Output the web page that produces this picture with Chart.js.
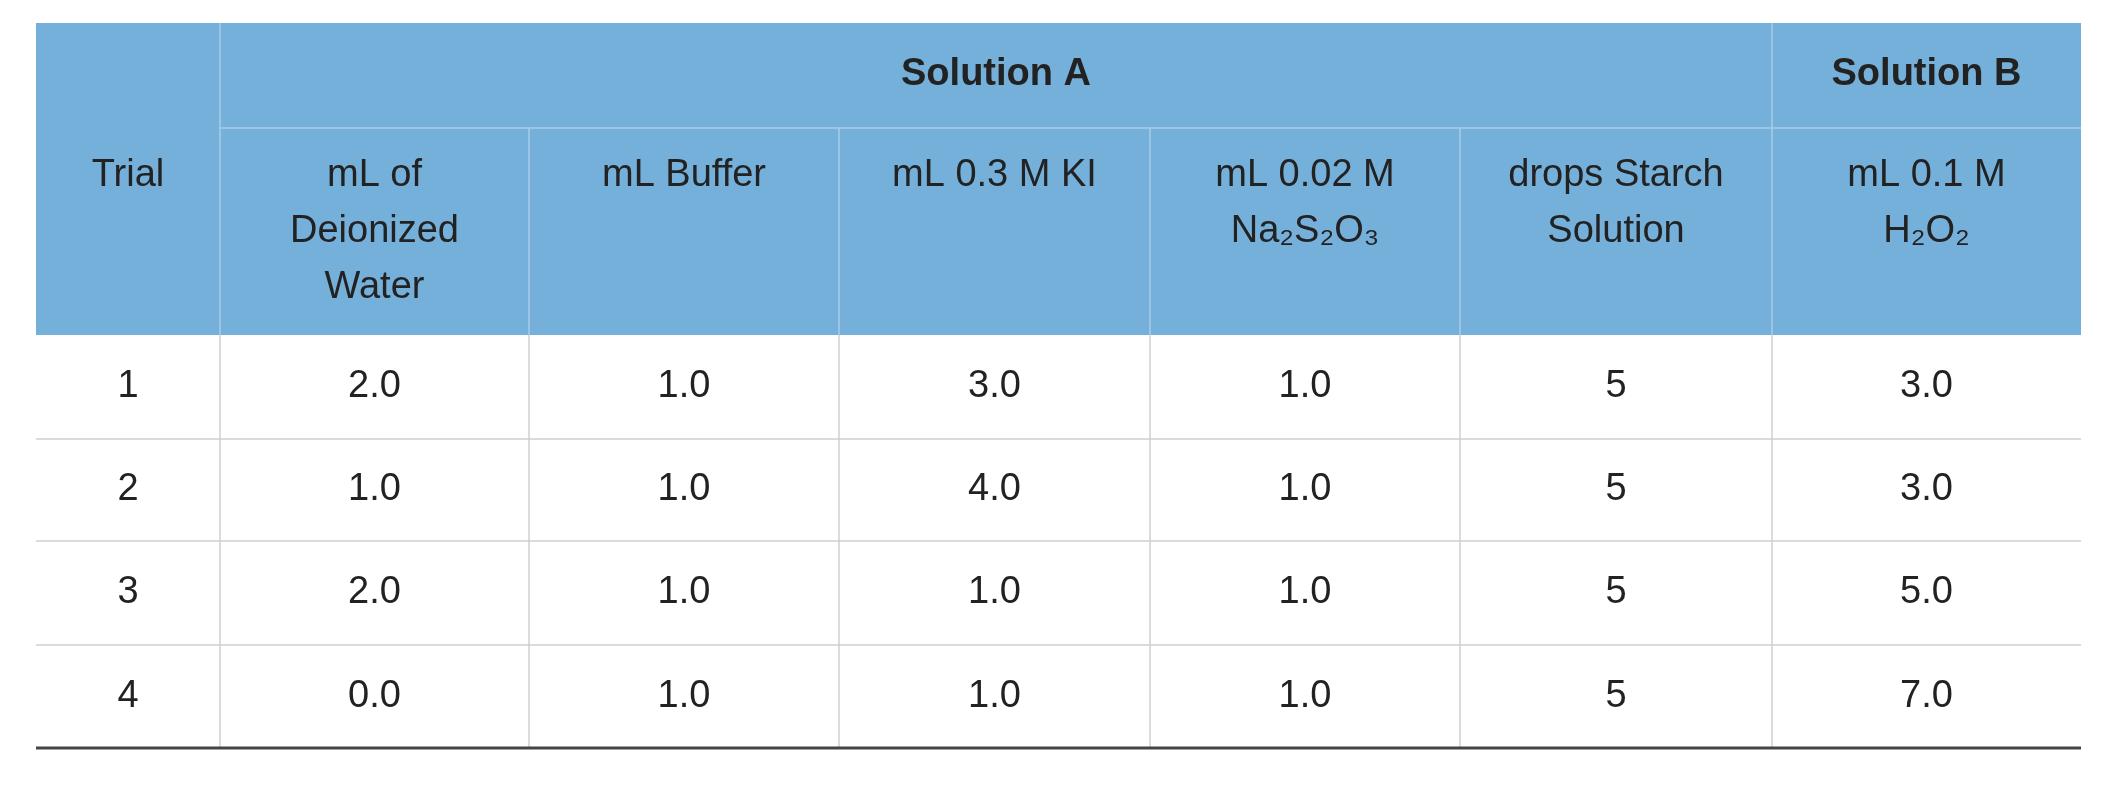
<!DOCTYPE html>
<html>
<head>
<meta charset="utf-8">
<script src="https://cdn.jsdelivr.net/npm/chart.js@4.4.0/dist/chart.umd.min.js"></script>
<style>
  html, body { margin: 0; padding: 0; background: #fff; }
  #wrap { width: 2116px; height: 790px; }
</style>
</head>
<body>
<div id="wrap"><canvas id="tbl"></canvas></div>
<script>
// table content
const groupHeaders = ['', 'Solution A', 'Solution B'];
const columnHeaders = [
    ['Trial'],
    ['mL of', 'Deionized', 'Water'],
    ['mL Buffer'],
    ['mL 0.3 M KI'],
    ['mL 0.02 M', 'Na₂S₂O₃'],
    ['drops Starch', 'Solution'],
    ['mL 0.1 M', 'H₂O₂']
];
const trials = ['1', '2', '3', '4'];
const water = ['2.0', '1.0', '2.0', '0.0'];
const buffer = ['1.0', '1.0', '1.0', '1.0'];
const ki = ['3.0', '4.0', '1.0', '1.0'];
const thio = ['1.0', '1.0', '1.0', '1.0'];
const starch = ['5', '5', '5', '5'];
const peroxide = ['3.0', '3.0', '5.0', '7.0'];

const columns = [trials, water, buffer, ki, thio, starch, peroxide];

// column edges / row edges in scale units
const colEdges = [0, 184, 493, 803, 1114, 1424, 1736, 2045];
const rowEdges = [0, 105, 312, 416, 518, 622, 725];

const tablePlugin = {
    id: 'tablePlugin',
    afterDraw(chart) {
        const ctx = chart.ctx;
        const xs = chart.scales.x, ys = chart.scales.y;
        const X = v => xs.getPixelForValue(v);
        const Y = v => ys.getPixelForValue(v);
        const font = "'Liberation Sans', Arial, Helvetica, sans-serif";
        ctx.save();

        // header background
        ctx.fillStyle = '#75b0db';
        ctx.fillRect(X(0), Y(0), X(2045) - X(0), Y(rowEdges[2]) - Y(0));

        // header separators
        ctx.strokeStyle = '#a9cbe8';
        ctx.lineWidth = 1.5;
        ctx.beginPath();
        ctx.moveTo(X(colEdges[1]), Y(rowEdges[1])); ctx.lineTo(X(2045), Y(rowEdges[1]));
        ctx.moveTo(X(colEdges[1]), Y(0)); ctx.lineTo(X(colEdges[1]), Y(rowEdges[2]));
        ctx.moveTo(X(colEdges[6]), Y(0)); ctx.lineTo(X(colEdges[6]), Y(rowEdges[2]));
        for (let i = 2; i < 6; i++) {
            ctx.moveTo(X(colEdges[i]), Y(rowEdges[1])); ctx.lineTo(X(colEdges[i]), Y(rowEdges[2]));
        }
        ctx.stroke();

        // body grid
        ctx.strokeStyle = '#cfcfcf';
        ctx.beginPath();
        for (let i = 1; i < 7; i++) {
            ctx.moveTo(X(colEdges[i]), Y(rowEdges[2])); ctx.lineTo(X(colEdges[i]), Y(725));
        }
        for (let r = 3; r < 6; r++) {
            ctx.moveTo(X(0), Y(rowEdges[r])); ctx.lineTo(X(2045), Y(rowEdges[r]));
        }
        ctx.stroke();

        // bottom rule
        ctx.strokeStyle = '#444';
        ctx.lineWidth = 3;
        ctx.beginPath();
        ctx.moveTo(X(0), Y(725)); ctx.lineTo(X(2045), Y(725));
        ctx.stroke();

        ctx.fillStyle = '#222';
        ctx.textAlign = 'center';
        ctx.textBaseline = 'middle';

        // group headers
        ctx.font = 'bold 38px ' + font;
        ctx.fillText(groupHeaders[1], (X(colEdges[1]) + X(colEdges[6])) / 2, Y(52));
        ctx.fillText(groupHeaders[2], (X(colEdges[6]) + X(colEdges[7])) / 2, Y(52));

        // column headers
        ctx.font = '38px ' + font;
        columnHeaders.forEach((lines, c) => {
            const cx = (X(colEdges[c]) + X(colEdges[c + 1])) / 2;
            lines.forEach((t, k) => ctx.fillText(t, cx, Y(153 + k * 56)));
        });

        // body cells
        columns.forEach((col, c) => {
            const cx = (X(colEdges[c]) + X(colEdges[c + 1])) / 2;
            col.forEach((v, r) => {
                ctx.fillText(v, cx, (Y(rowEdges[r + 2]) + Y(rowEdges[r + 3])) / 2);
            });
        });
        ctx.restore();
    }
};

new Chart(document.getElementById('tbl'), {
    type: 'scatter',
    data: { datasets: [{ data: [] }] },
    options: {
        responsive: true,
        maintainAspectRatio: false,
        animation: false,
        layout: { padding: { left: 36, top: 23, right: 35, bottom: 42 } },
        plugins: { legend: { display: false }, tooltip: { enabled: false } },
        scales: {
            x: { type: 'linear', min: 0, max: 2045, display: false },
            y: { type: 'linear', min: 0, max: 725, reverse: true, display: false }
        }
    },
    plugins: [tablePlugin]
});
</script>
</body>
</html>
